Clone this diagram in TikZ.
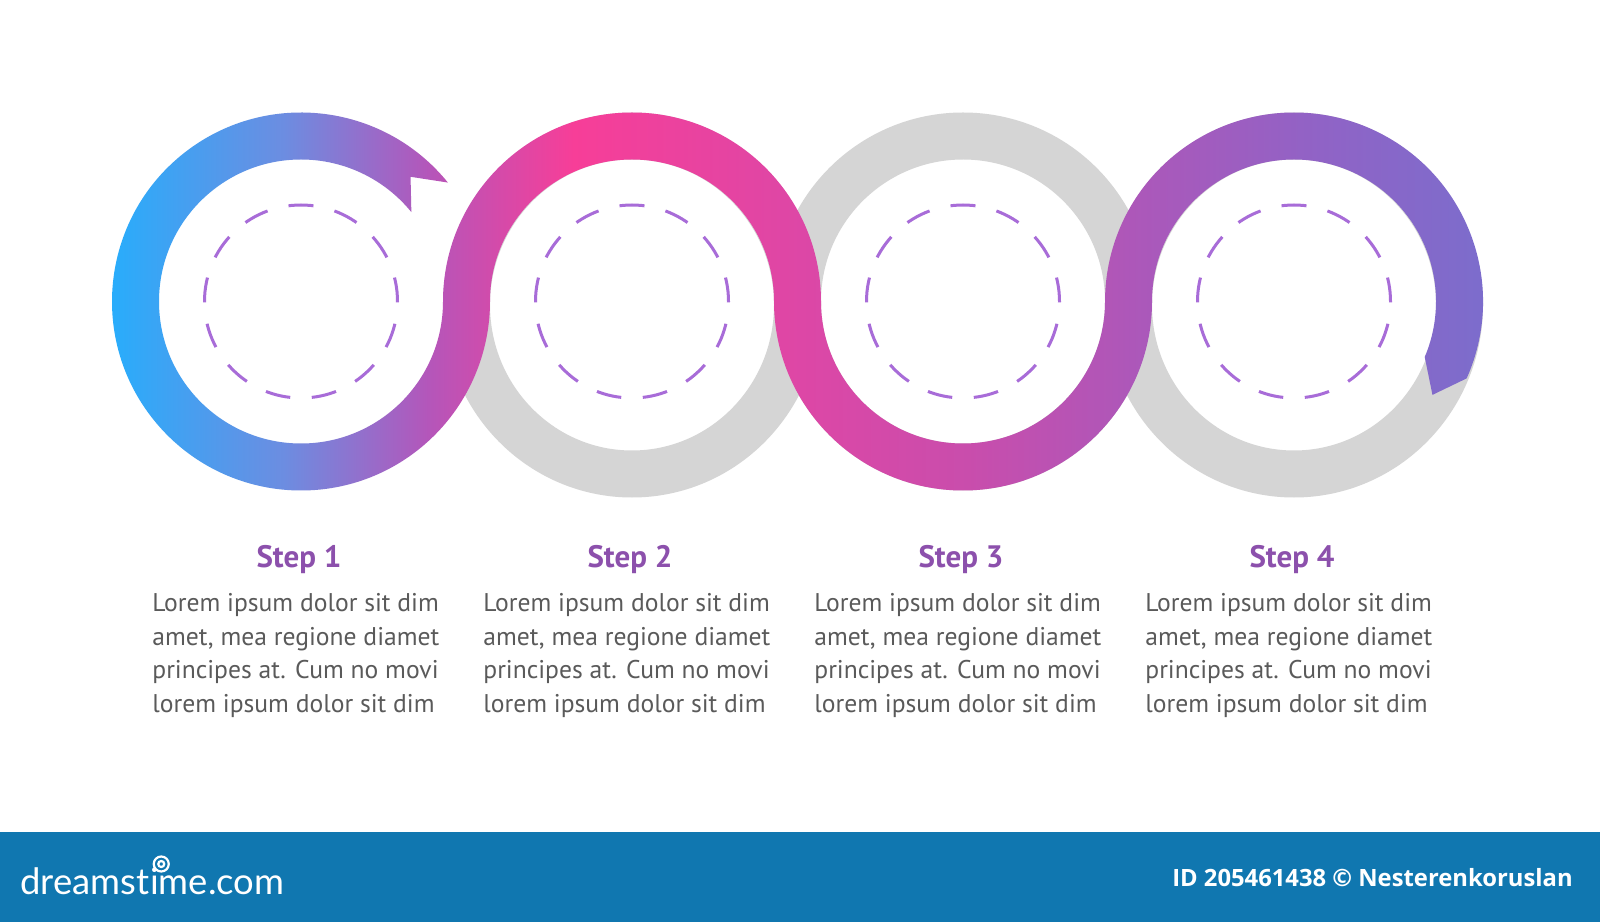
\documentclass[tikz,border=0pt]{standalone}
\usepackage{fontspec}
\setmainfont{PT Sans}
\newfontfamily\logofont{Lato}
\newfontfamily\idfont{Open Sans}
\usetikzlibrary{calc}

\definecolor{g0}{RGB}{31,177,255}
\definecolor{g1}{RGB}{108,141,225}
\definecolor{g2}{RGB}{180,86,186}
\definecolor{g3}{RGB}{247,62,152}
\definecolor{g4}{RGB}{221,71,166}
\definecolor{g5}{RGB}{201,77,172}
\definecolor{g6}{RGB}{171,88,186}
\definecolor{g7}{RGB}{144,99,198}
\definecolor{g8}{RGB}{121,110,205}
\definecolor{ringgray}{RGB}{213,213,213}
\definecolor{dashpurple}{RGB}{168,108,216}
\definecolor{titlepurple}{RGB}{140,80,172}
\definecolor{bodygray}{RGB}{90,90,90}
\definecolor{bannerblue}{RGB}{16,119,176}

\pgfdeclarehorizontalshading{bandgrad}{100bp}{color(0bp)=(g0); color(25bp)=(g0); color(31.86bp)=(g1); color(36.96bp)=(g2); color(42.07bp)=(g3); color(50.09bp)=(g4); color(55.93bp)=(g5); color(62.13bp)=(g6); color(68.33bp)=(g7); color(75bp)=(g8); color(100bp)=(g8)}

\begin{document}
\begin{tikzpicture}[x=0.5pt,y=0.5pt,
  ring/.style={draw=ringgray, line width=23.5pt},
  dashring/.style={draw=dashpurple, line width=1.5pt, dash pattern=on 12.5pt off 10.82pt, dash phase=0.41pt},
  steptitle/.style={font=\bfseries\fontsize{15.5}{18}\selectfont, text=titlepurple, anchor=base, inner sep=0pt},
  stepbody/.style={font=\fontsize{12.8}{16.75}\selectfont, text=bodygray, align=left, anchor=north west, inner sep=0pt},
  logotext/.style={font=\logofont\fontsize{18.2}{20}\selectfont, text=white, anchor=base west, inner sep=0pt},
  idtext/.style={font=\idfont\bfseries\fontsize{11.9}{14}\selectfont, text=white, anchor=base east, inner sep=0pt}]
\useasboundingbox (0,0) rectangle (1600,922);
\fill[white] (0,0) rectangle (1600,922);

% circle centres
\coordinate (c1) at (301,620.5);
\coordinate (c2) at (632,620.5);
\coordinate (c3) at (963,620.5);
\coordinate (c4) at (1294,620.5);

% grey rings
\draw[ring] (632,617) ellipse[x radius=165.5, y radius=169];
\draw[ring] (c3) circle[radius=165.5];
\draw[ring] (1294,617) ellipse[x radius=165.5, y radius=169];

% gradient ribbon
\shade[shading=bandgrad]
  ($(c1)+(39:189)$) arc[start angle=39, end angle=360, radius=189]
  arc[start angle=180, end angle=0, radius=142]
  arc[start angle=180, end angle=360, radius=189]
  arc[start angle=180, end angle=-23, radius=142]
  -- ($(c4)+(-34:167)$)
  -- ($(c4)+(-24:189)$)
  arc[start angle=-24, end angle=180, radius=189]
  arc[start angle=0, end angle=-180, radius=142]
  arc[start angle=0, end angle=180, radius=189]
  arc[start angle=360, end angle=39, radius=142]
  -- ($(c1)+(48.7:166)$) -- cycle;

% dashed inner circles
\foreach \c in {c1,c2,c3,c4}
  \draw[dashring] (\c) circle[radius=96.5];

% texts
\foreach \i/\cx in {1/301,2/632,3/963,4/1294}{
  \node[steptitle] (title\i) at (\cx-2,355) {Step \i};
  \node[stepbody] (body\i) at (\cx-149,329) {Lorem ipsum dolor sit dim\\amet, mea regione diamet\\principes at. Cum no movi\\lorem ipsum dolor sit dim};
}

% banner
\fill[bannerblue] (0,0) rectangle (1600,90);
\node[logotext] (logoa) at (20,28) {dreamst};
\node[logotext] (logob) at (logoa.base east) {ime.com};
\coordinate (spiral) at ($(logob.base west)+(11.5,30)$);
\draw[white, line width=1.1pt] (spiral) circle[radius=7.5];
\draw[white, line width=1.1pt] (spiral) circle[radius=3];
\node[idtext] (idline) at (1573,36) {ID 205461438 © Nesterenkoruslan};
\end{tikzpicture}
\end{document}
